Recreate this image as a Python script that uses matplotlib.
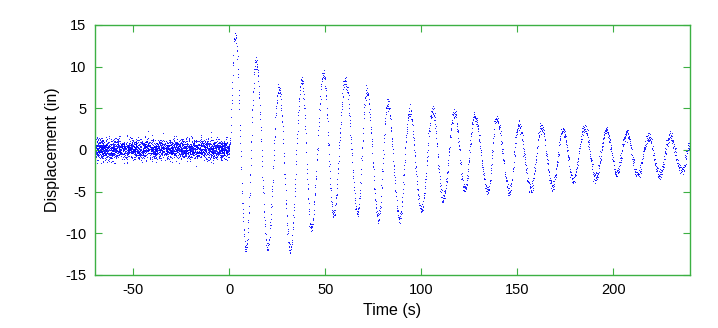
import numpy as np
import matplotlib.pyplot as plt

plt.rcParams['font.family'] = ['Liberation Sans', 'DejaVu Sans']
plt.rcParams['axes.unicode_minus'] = False

# peaks and troughs of the free oscillation (time s, displacement in)
peak_t = [0.0, 3.0, 8.7, 13.9, 20.0, 25.8, 31.7, 37.8, 42.6, 49.1, 54.3, 60.4, 66.9,
          71.5, 77.7, 82.5, 88.7, 93.9, 100.0, 106.0, 111.3, 117.3, 122.6, 127.7,
          134.8, 139.1, 146.1, 150.7, 157.0, 162.6, 168.3, 173.9, 179.1, 185.1,
          190.8, 196.5, 201.7, 206.9, 212.7, 218.2, 224.3, 229.5, 235.6, 240.0]
peak_v = [0.0, 13.8, -12.0, 10.6, -12.0, 7.4, -12.0, 8.2, -9.7, 9.0, -7.9, 8.4, -7.7,
          7.0, -8.3, 5.4, -8.3, 4.6, -7.3, 4.6, -6.1, 4.4, -5.1, 4.0,
          -5.1, 3.6, -5.1, 3.0, -4.9, 2.7, -4.5, 2.4, -3.7, 2.4,
          -3.5, 2.2, -2.9, 1.9, -3.1, 1.5, -3.1, 1.5, -2.7, 0.7]

# pre-release record: time span and scatter of the sensor noise (in)
pre_t = [-70.0, 0.0]
pre_spread = 0.6
curve_spread = 0.35

x_ticks = [-50, 0, 50, 100, 150, 200]
y_ticks = [-15, -10, -5, 0, 5, 10, 15]

rng = np.random.default_rng(3)

# noise cloud before release
t_pre = rng.uniform(pre_t[0], pre_t[1], 2600)
v_pre = rng.normal(0, pre_spread, t_pre.size)

# samples along the oscillation, half-cosine between the read extrema
t_list, v_list = [], []
for i in range(len(peak_t) - 1):
    t0, t1 = peak_t[i], peak_t[i + 1]
    v0, v1 = peak_v[i], peak_v[i + 1]
    ts = np.arange(t0, t1, 1 / 9)
    vs = v0 + (v1 - v0) * (1 - np.cos(np.pi * (ts - t0) / (t1 - t0))) / 2
    t_list.append(ts)
    v_list.append(vs)
t_osc = np.concatenate(t_list)
v_osc = np.concatenate(v_list) + rng.normal(0, curve_spread, t_osc.size)

fig = plt.figure(figsize=(7.18, 3.28), dpi=100)
ax = fig.add_axes([0.132, 0.162, 0.829, 0.762])

ax.plot(t_pre, v_pre, ',', color='#0000ff', alpha=0.85)
ax.plot(t_osc, v_osc, ',', color='#0000ff', alpha=0.85)

ax.set_xlim(-70, 240)
ax.set_ylim(-15, 15)
ax.set_xticks(x_ticks)
ax.set_yticks(y_ticks)
ax.tick_params(direction='in', length=5, color='#3cb043', labelsize=10.5,
               top=True, right=True, pad=6)
for sp in ax.spines.values():
    sp.set_color('#3cb043')
    sp.set_linewidth(1.0)

ax.set_xlabel('Time (s)', fontsize=11.5)
ax.set_ylabel('Displacement (in)', fontsize=11.5)

fig.savefig('out.png', dpi=100)
